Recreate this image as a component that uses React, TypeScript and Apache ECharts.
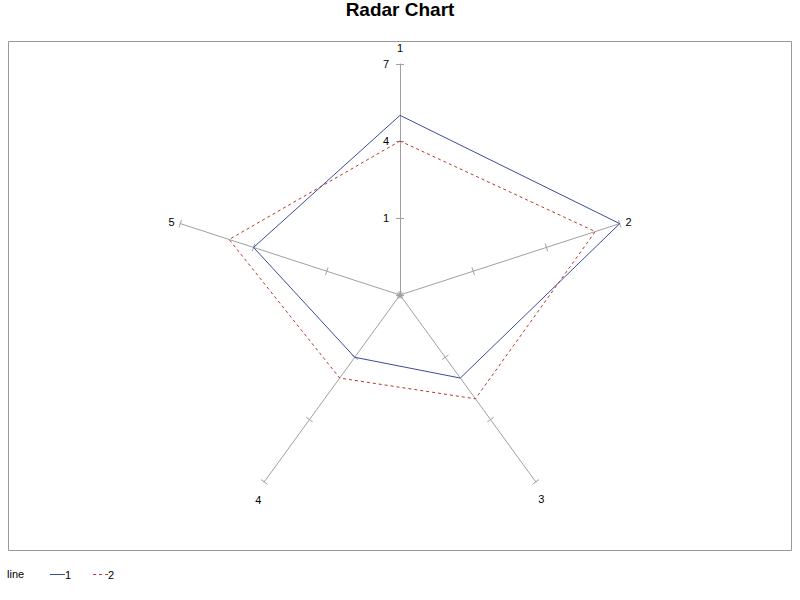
import { useRef, useEffect } from 'react'
import * as echarts from 'echarts'

const CATEGORIES = ['1', '2', '3', '4', '5']
const SERIES_NAMES = ['1', '2']
const SERIES_1 = [5, 7, 2, 1, 4]
const SERIES_2 = [4, 6, 3, 2, 5]
const AXIS_MIN = -2
const AXIS_MAX = 7

const BLUE = '#3a4c9c'
const RED = '#b5382a'
const AXIS_GREY = '#a0a0a0'
const FONT = 'Liberation Sans, Arial, sans-serif'

// radar lays indicators counter-clockwise, so feed them in reverse after the first
const ORDER = [0, 4, 3, 2, 1]
// name gap per category; the two bottom names are pushed straight down
const NAME_GAPS = [9, 6, 4, 5, 6]
const BOTTOM_NAMES = ['3', '4']

function buildOption(): echarts.EChartsOption {
  const indicatorFor = (withLabels: boolean) =>
    ORDER.map((i, k) => ({
      name: CATEGORIES[i],
      min: AXIS_MIN,
      max: AXIS_MAX,
      color: '#000',
      nameGap: NAME_GAPS[i],
      axisLabel: { show: withLabels && k === 0 },
    }))
  const radarBase = {
    center: [400, 295],
    radius: 231,
    startAngle: 90,
    splitNumber: 3,
    shape: 'polygon' as const,
    splitLine: { show: false },
    splitArea: { show: false },
  }
  return {
    animation: false,
    backgroundColor: '#fff',
    title: [
      {
        text: 'Radar Chart',
        left: 'center',
        top: -5,
        textStyle: { fontFamily: FONT, fontSize: 19, fontWeight: 'bold', color: '#000' },
      },
      {
        text: 'line',
        left: 2,
        top: 563,
        textStyle: { fontFamily: FONT, fontSize: 11, fontWeight: 'normal', color: '#000' },
      },
    ],
    legend: {
      left: 45,
      top: 564,
      itemWidth: 15,
      itemHeight: 1,
      itemGap: 22,
      textStyle: { fontFamily: FONT, fontSize: 11, color: '#000', padding: [0, 0, 0, -5] },
      data: [
        { name: SERIES_NAMES[0], icon: 'rect' },
        { name: SERIES_NAMES[1], icon: 'path://M0,0h3v1h-3z M6,0h3v1h-3z M12,0h3v1h-3z' },
      ],
    },
    graphic: [
      {
        type: 'rect',
        shape: { x: 8.5, y: 41.5, width: 783, height: 509 },
        style: { fill: 'none', stroke: '#999', lineWidth: 1 },
        silent: true,
      },
    ],
    radar: [
      {
        ...radarBase,
        indicator: indicatorFor(true),
        axisName: {
          color: '#000',
          fontFamily: FONT,
          fontSize: 11,
          lineHeight: 14,
          formatter: (name: string) => (BOTTOM_NAMES.includes(name) ? `\n\n${name}` : name),
        },
        axisLine: { lineStyle: { color: AXIS_GREY, width: 1 } },
        axisTick: { show: true, length: 4, lineStyle: { color: AXIS_GREY } },
        axisLabel: {
          show: false,
          color: '#000',
          fontFamily: FONT,
          fontSize: 11,
          margin: 11,
          padding: [4, 0, 0, 0],
          formatter: (v: number) => (v === AXIS_MIN ? '' : String(v)),
        },
      },
      {
        ...radarBase,
        indicator: indicatorFor(false),
        axisName: { show: false },
        axisLine: { show: false },
        axisTick: { show: true, length: -4, lineStyle: { color: AXIS_GREY } },
        axisLabel: { show: false },
      },
    ],
    series: [
      {
        type: 'radar',
        radarIndex: 0,
        symbol: 'none',
        data: [
          {
            name: SERIES_NAMES[0],
            value: ORDER.map(i => SERIES_1[i]),
            lineStyle: { color: BLUE, width: 1 },
            itemStyle: { color: BLUE },
          },
          {
            name: SERIES_NAMES[1],
            value: ORDER.map(i => SERIES_2[i]),
            lineStyle: { color: RED, width: 1, type: [3, 3] },
            itemStyle: { color: RED },
          },
        ],
      },
    ],
  }
}

export default function App() {
  const containerRef = useRef<HTMLDivElement>(null)

  useEffect(() => {
    const el = containerRef.current
    if (!el) return
    const chart = echarts.init(el, null, { renderer: 'svg' })
    chart.setOption(buildOption())
    return () => chart.dispose()
  }, [])

  return (
    <div
      ref={containerRef}
      style={{ position: 'fixed', left: 0, top: 0, width: 800, height: 600, background: '#fff' }}
    />
  )
}
